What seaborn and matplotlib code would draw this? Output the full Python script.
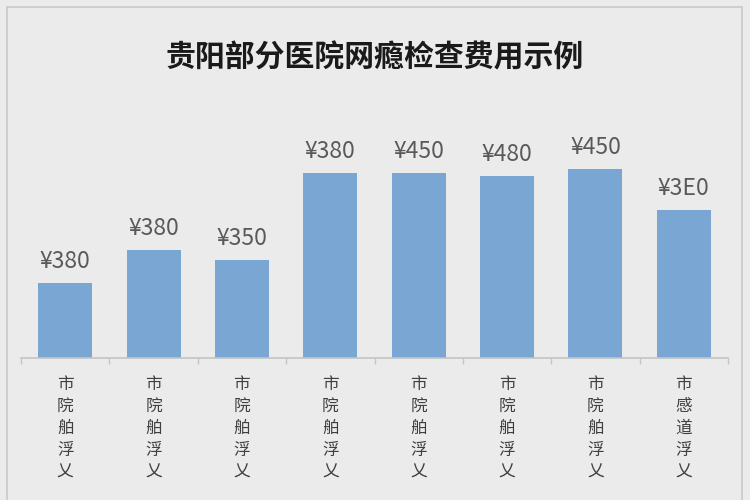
import matplotlib
matplotlib.use("Agg")
import matplotlib.pyplot as plt
import seaborn as sns
import pandas as pd
import numpy as np

# ── Data ──────────────────────────────────────────────────────────────────────
TITLE = "贵阳部分医院网瘾检查费用示例"
hospitals = ["市院舶浮乂", "市院舶浮乂", "市院舶浮乂", "市院舶浮乂",
             "市院舶浮乂", "市院舶浮乂", "市院舶浮乂", "市感道浮乂"]
price_labels = ["¥380", "¥380", "¥350", "¥380", "¥450", "¥480", "¥450", "¥3E0"]
bar_heights = [75, 108, 98, 185, 185, 182, 189, 148]   # bar height as drawn

BG = "#ebebeb"
BAR = "#79a6d2"

sns.set_theme(style="white")
plt.rcParams["font.family"] = ["Noto Sans CJK SC", "DejaVu Sans"]

df = pd.DataFrame({"idx": range(len(bar_heights)), "h": bar_heights})

fig = plt.figure(figsize=(7.5, 5), dpi=100, facecolor=BG)
# thin outer frame like the spreadsheet chart area
frame = plt.Rectangle((7 / 750, -0.1), 735 / 750, 1.1 - 7 / 500, transform=fig.transFigure,
                      facecolor="none", edgecolor="#c9c9c9", linewidth=1.2)
fig.patches.append(frame)

ax = fig.add_axes([21 / 750, 142 / 500, 707 / 750, 258 / 500])
ax.set_facecolor(BG)
sns.barplot(data=df, x="idx", y="h", color=BAR, width=0.61, saturation=1,
            edgecolor="none", ax=ax)
ax.set_ylim(0, 258)
ax.set_xlim(-0.5, len(bar_heights) - 0.5)

for i, (h, lab) in enumerate(zip(bar_heights, price_labels)):
    ax.text(i, h + 10, lab, ha="center", va="bottom", fontsize=16.5, color="#595959")

for s in ["top", "right", "left"]:
    ax.spines[s].set_visible(False)
ax.spines["bottom"].set_color("#c4c4c4")
ax.spines["bottom"].set_linewidth(1.2)
ax.set_yticks([])
ax.set_xlabel("")
ax.set_ylabel("")

ax.set_xticks(range(len(hospitals)))
ax.set_xticklabels(["\n".join(list(n)) for n in hospitals], fontsize=12,
                   color="#404040", linespacing=1.38, va="top")
ax.tick_params(axis="x", which="major", length=0, pad=13)
ax.set_xticks(np.arange(-0.5, len(hospitals)), minor=True)
ax.tick_params(axis="x", which="minor", length=4, color="#c4c4c4", width=1, bottom=True)

fig.text(0.5, 443 / 500, TITLE, ha="center", va="center", fontsize=21.5,
         color="#1a1a1a", fontweight="bold")

fig.savefig("out.png", dpi=100, facecolor=BG)
